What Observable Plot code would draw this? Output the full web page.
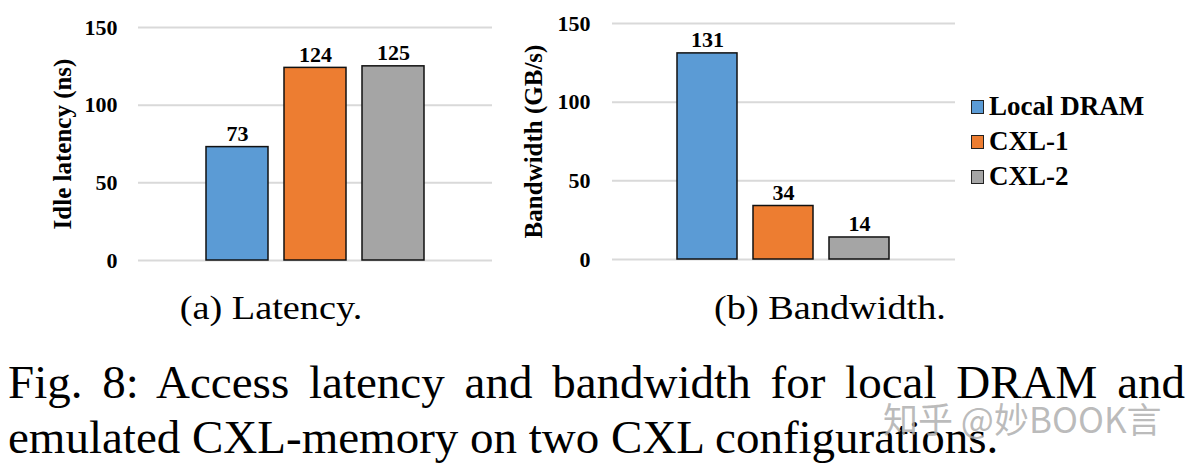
<!DOCTYPE html>
<html>
<head>
<meta charset="utf-8">
<script src="https://cdn.jsdelivr.net/npm/d3@7"></script>
<script src="https://cdn.jsdelivr.net/npm/@observablehq/plot@0.6"></script>
<style>
  html, body { margin: 0; padding: 0; background: #fff; }
  #page { position: relative; width: 1200px; height: 470px; overflow: hidden; background: #fff; font-family: "Liberation Serif", "Times New Roman", serif; color: #000; }
  .chart { position: absolute; top: 0; }
  .legend { position: absolute; left: 971px; top: 89px; font-family: "Liberation Serif", serif; font-weight: bold; font-size: 27px; }
  .legend .row { display: flex; align-items: center; height: 35px; }
  .legend .sw { width: 11px; height: 12px; border: 1.5px solid #222; margin-right: 5px; box-sizing: content-box; }
  .sub { position: absolute; top: 291px; width: 400px; text-align: center; font-size: 33px; line-height: 34px; transform: scaleX(1.16); white-space: nowrap; }
  .cap { position: absolute; left: 8px; width: 1177px; top: 355px; font-size: 47px; line-height: 55px; }
  .cap .l1 { text-align: justify; text-align-last: justify; display: block; }
  .wm { position: absolute; left: 883px; top: 398px; font-family: "Noto Sans CJK SC", sans-serif; font-size: 35px; line-height: 40px; color: rgba(175,175,175,0.85); white-space: nowrap; letter-spacing: 0px; }
</style>
</head>
<body>
<div id="page">
  <div id="left" class="chart" style="left:0px"></div>
  <div id="right" class="chart" style="left:500px"></div>
  <div class="legend" id="legend"></div>
  <div class="sub" style="left:71px">(a) Latency.</div>
  <div class="sub" style="left:630px">(b) Bandwidth.</div>
  <div class="cap"><span class="l1">Fig. 8: Access latency and bandwidth for local DRAM and</span>emulated CXL-memory on two CXL configurations.</div>
  <div class="wm">知乎 @妙BOOK言</div>
</div>
<script>
const categories = ["Local DRAM", "CXL-1", "CXL-2"];
const latency = [73, 124, 125];
const bandwidth = [131, 34, 14];
const yTicks = [0, 50, 100, 150];
const latencyLabel = "Idle latency (ns)";
const bandwidthLabel = "Bandwidth (GB/s)";
const palette = ["#5B9BD5", "#ED7D31", "#A5A5A5"];

const fontStyle = {fontFamily: "'Liberation Serif', 'Times New Roman', serif", fontWeight: "bold", fontSize: "22px", color: "#000", background: "transparent", overflow: "visible"};

function chart({values, label, width, height, marginLeft, marginRight, marginTop, marginBottom, xRange, labelDx, tickPadding}) {
  const data = categories.map((c, i) => ({cat: c, v: values[i]}));
  return Plot.plot({
    width, height, marginLeft, marginRight, marginTop, marginBottom,
    style: fontStyle,
    x: {type: "band", domain: categories, range: xRange, padding: 0.21, axis: null},
    y: {domain: [0, 150], axis: null},
    color: {domain: categories, range: palette},
    marks: [
      Plot.gridY(yTicks, {stroke: "#d9d9d9", strokeOpacity: 1, strokeWidth: 2}),
      Plot.axisY(yTicks, {tickSize: 0, tickPadding, fontSize: 22, fontWeight: "bold", label: null, fill: "#000"}),
      Plot.barY(data, {x: "cat", y: "v", fill: "cat", stroke: "#111", strokeWidth: 1.5}),
      Plot.text(data, {x: "cat", y: "v", text: d => String(d.v), lineAnchor: "bottom", dy: -6, fontSize: 22, fontWeight: "bold", fill: "#000"}),
      Plot.text([label], {frameAnchor: "left", textAnchor: "middle", lineAnchor: "middle", dx: labelDx, rotate: -90, fontSize: 25, fontWeight: "bold", fill: "#000"})
    ]
  });
}

document.getElementById("left").append(chart({
  values: latency, label: latencyLabel, width: 500, height: 280,
  marginLeft: 138, marginRight: 8, marginTop: 27, marginBottom: 20,
  xRange: [188.5, 440.5], labelDx: -76, tickPadding: 21
}));
document.getElementById("right").append(chart({
  values: bandwidth, label: bandwidthLabel, width: 470, height: 280,
  marginLeft: 112, marginRight: 15, marginTop: 23, marginBottom: 21,
  xRange: [161, 405], labelDx: -79, tickPadding: 22
}));

const legend = document.getElementById("legend");
categories.forEach((c, i) => {
  const row = document.createElement("div");
  row.className = "row";
  const sw = document.createElement("span");
  sw.className = "sw";
  sw.style.background = palette[i];
  const t = document.createElement("span");
  t.textContent = c;
  row.append(sw, t);
  legend.append(row);
});
</script>
</body>
</html>
